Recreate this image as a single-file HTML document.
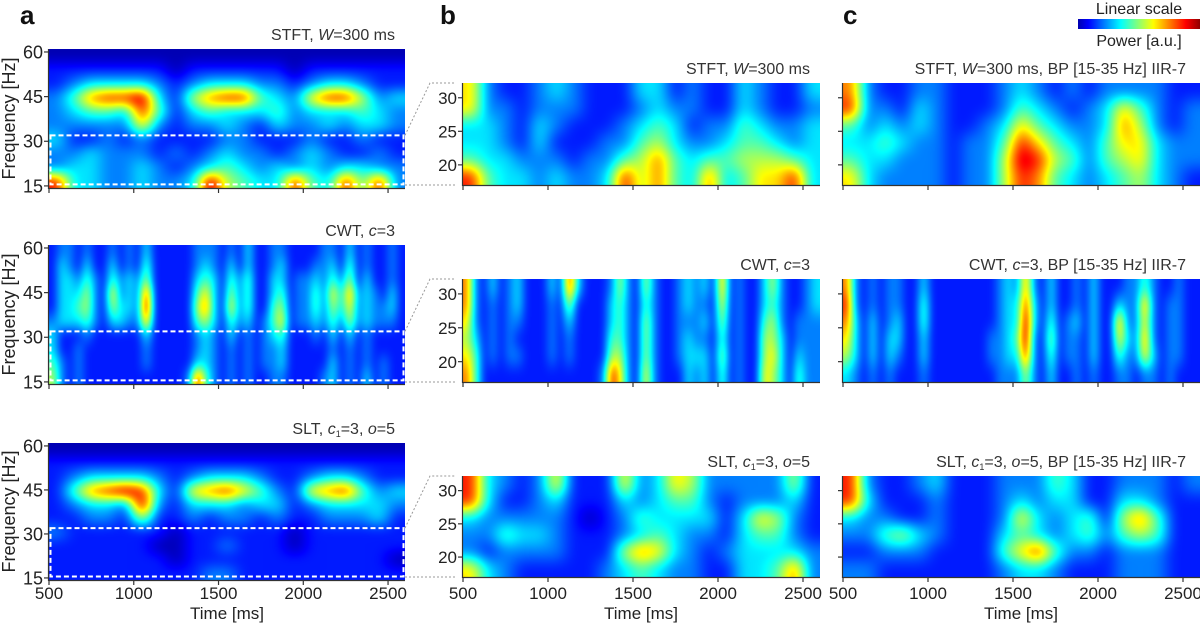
<!DOCTYPE html>
<html><head><meta charset="utf-8"><style>
body{margin:0;background:#fff;width:1200px;height:626px;overflow:hidden;position:relative;font-family:"Liberation Sans",sans-serif}
canvas{position:absolute}
svg{position:absolute;left:0;top:0}
</style></head><body>
<div id="maps"></div>
<canvas id="cbar" width="122" height="10" style="left:1078px;top:19px"></canvas>
<svg id="ov" width="1200" height="626"></svg>
<script>
const timeTicks=[500,1000,1500,2000,2500];
const freqTicksA=[60,45,30,15];
const freqTicksB=[30,25,20];
const stftA=[
"000000000000000000000",
"111111101111110111111",
"123333212333221233211",
"247889315788432688523",
"234438413433342333432",
"222226212232132232332",
"311212111122111211211",
"223222121232212321121",
"233223212343232323322",
"833223223954338438482"];
const cwtA=[
"122121121213111112221213112211112213121121",
"132131131214111112321313112311122314121121",
"133242142325111113431424113312232425131121",
"133352162328111114631524113412242637232131",
"133452153329111115731624114512242536232231",
"233342133227111114531423124612232425232221",
"311121111113111112321312123411121313121111",
"311211111112111112321212122311111212121111",
"421211111112111113321212122311111312121211",
"521211111111111128421212112211112312131211"];
const sltA=[
"000000000000000000000",
"111111111111111111111",
"123333212333211233211",
"147898316786421678423",
"123329213332331233332",
"112215112122121122231",
"211111101111110111111",
"111111001121110111111",
"111111101111111111110",
"111111111221111111111"];
const stftB=[
"621123211133121132113",
"622122211123221132112",
"332132111234312243223",
"332131112245322344323",
"433222122457434455543",
"843323223857437346683"];
const cwtB=[
"721312311131831112521521123231712113521123",
"721212311121511113421421123221612113421123",
"621212211121311113421521122231512114521222",
"531212111121211114421521123221412115531222",
"641212211121211115521521123331512115631322",
"741111111111111128621621113231412116531422"];
const sltB=[
"832126111623652222251",
"831123111323442122231",
"322222101243333136521",
"224332111234322134421",
"212222111576321233332",
"632111112343221133472"];
const stftC=[
"721122111232121222211",
"822132111243212364212",
"423232112364322375212",
"334322122486432466322",
"433222122598542456322",
"632222122587432345321"];
const cwtC=[
"721212211311111111232721311213111224211211",
"821212211411111111233831311213113227212211",
"731312311411111111233931412313117226212211",
"631313311311111112234921512213116327212211",
"531313211311111112233821412213114226312211",
"321212111211111111222521311212112212212111"];
const sltC=[
"821123111222431122212",
"831112111232331133211",
"322112111263234157411",
"224532111343234245411",
"112221111468422122211",
"221111111233211122211"];

const T0=500,T1=2600;
const rowsA=[[49,188],[245,384],[443,580]];
const rowsB=[[83,185],[279,382],[476,577]];
const panels=[
 {g:stftA,x0:49,x1:405,r:0,fmax:61,fmin:14.3,name:'stft-a'},
 {g:cwtA,x0:49,x1:405,r:1,fmax:61,fmin:14.3,name:'cwt-a'},
 {g:sltA,x0:49,x1:405,r:2,fmax:61,fmin:14.3,name:'slt-a'},
 {g:stftB,x0:463,x1:820,r:0,fmax:32.2,fmin:17,name:'stft-b',b:1},
 {g:cwtB,x0:463,x1:820,r:1,fmax:32.2,fmin:17,name:'cwt-b',b:1},
 {g:sltB,x0:463,x1:820,r:2,fmax:32.2,fmin:17,name:'slt-b',b:1},
 {g:stftC,x0:843,x1:1200,r:0,fmax:32.2,fmin:17,name:'stft-c',b:1},
 {g:cwtC,x0:843,x1:1200,r:1,fmax:32.2,fmin:17,name:'cwt-c',b:1},
 {g:sltC,x0:843,x1:1200,r:2,fmax:32.2,fmin:17,name:'slt-c',b:1}];
function jet(v){const c=x=>Math.max(0,Math.min(1,x));return [c(1.5-Math.abs(4*v-3))*255,c(1.5-Math.abs(4*v-2))*255,c(1.5-Math.abs(4*v-1))*255];}
function boxBlur(F,w,h,rx,ry){
 const tmp=new Float32Array(w*h);
 for(let y=0;y<h;y++)for(let x=0;x<w;x++){let s=0,n=0;for(let k=-rx;k<=rx;k++){const xx=Math.max(0,Math.min(w-1,x+k));s+=F[y*w+xx];n++;}tmp[y*w+x]=s/n;}
 for(let y=0;y<h;y++)for(let x=0;x<w;x++){let s=0,n=0;for(let k=-ry;k<=ry;k++){const yy=Math.max(0,Math.min(h-1,y+k));s+=tmp[yy*w+x];n++;}F[y*w+x]=s/n;}
}
const maps=document.getElementById('maps');
panels.forEach(p=>{
 const [y0,y1]=(p.b?rowsB:rowsA)[p.r];
 const w=p.x1-p.x0,h=y1-y0;
 const cv=document.createElement('canvas');
 cv.width=w;cv.height=h;cv.style.left=p.x0+'px';cv.style.top=y0+'px';
 
 
 maps.appendChild(cv);
 const ctx=cv.getContext('2d'),img=ctx.createImageData(w,h);
 const R=p.g.length,C=p.g[0].length;
 const val=(r,c)=>+p.g[Math.max(0,Math.min(R-1,r))][Math.max(0,Math.min(C-1,c))];
 const F=new Float32Array(w*h);
 for(let y=0;y<h;y++){const gy=(y+0.5)/h*R-0.5,ry=Math.floor(gy),fy=gy-ry;
  for(let x=0;x<w;x++){const gx=(x+0.5)/w*C-0.5,cx=Math.floor(gx),fx=gx-cx;
   F[y*w+x]=(val(ry,cx)*(1-fx)+val(ry,cx+1)*fx)*(1-fy)+(val(ry+1,cx)*(1-fx)+val(ry+1,cx+1)*fx)*fy;}}
 const rx=Math.max(1,Math.round(w/C*0.3)),ryy=Math.max(1,Math.round(h/R*0.3));
 for(let k=0;k<3;k++)boxBlur(F,w,h,rx,ryy);
 for(let i=0;i<w*h;i++){const col=jet(0.05+F[i]*0.1);img.data[i*4]=col[0];img.data[i*4+1]=col[1];img.data[i*4+2]=col[2];img.data[i*4+3]=255;}
 ctx.putImageData(img,0,0);
 p.y0=y0;p.y1=y1;
});
(function(){const c=document.getElementById('cbar').getContext('2d');for(let x=0;x<122;x++){const k=jet(0.05+x/121*0.93);c.fillStyle=`rgb(${k[0]|0},${k[1]|0},${k[2]|0})`;c.fillRect(x,0,1,10);}})();
const NS='http://www.w3.org/2000/svg',ov=document.getElementById('ov');
function el(tag,attrs,txt){const e=document.createElementNS(NS,tag);for(const k in attrs)e.setAttribute(k,attrs[k]);if(txt!==undefined)e.innerHTML=txt;ov.appendChild(e);return e;}
const titles=['STFT, <tspan font-style="italic">W</tspan>=300 ms','CWT, <tspan font-style="italic">c</tspan>=3','SLT, <tspan font-style="italic">c</tspan><tspan font-size="9" dy="3">1</tspan><tspan dy="-3">=3, </tspan><tspan font-style="italic">o</tspan>=5'];
const titlesC=[titles[0]+', BP [15-35 Hz] IIR-7',titles[1]+', BP [15-35 Hz] IIR-7','SLT, <tspan font-style="italic">c</tspan><tspan font-size="9" dy="3">1</tspan><tspan dy="-3">=3, </tspan><tspan font-style="italic">o</tspan>=5, BP [15-35 Hz] IIR-7'];
panels.forEach((p,i)=>{
 const xs=t=>p.x0+(t-T0)/(T1-T0)*(p.x1-p.x0);
 const ys=f=>p.y0+(p.fmax-f)/(p.fmax-p.fmin)*(p.y1-p.y0);
 let ln=el('line',{x1:p.x0-0.5,y1:p.y0,x2:p.x0-0.5,y2:p.y1+1,stroke:'#333','stroke-width':1.2});
 
 ln=el('line',{x1:p.x0-0.5,y1:p.y1+0.5,x2:p.x1,y2:p.y1+0.5,stroke:'#333','stroke-width':1.2});
 
 timeTicks.forEach(t=>{const tk=el('line',{x1:xs(t),y1:p.y1,x2:xs(t),y2:p.y1+5,stroke:'#333','stroke-width':1.2});
  
  if(p.r===2){const tl=el('text',{x:xs(t),y:599,'text-anchor':'middle','font-size':17,fill:'#222'},t);
   }});
 const ft=p.b?freqTicksB:freqTicksA;
 ft.forEach(f=>{const tk=el('line',{x1:p.x0-5,y1:ys(f),x2:p.x0,y2:ys(f),stroke:'#333','stroke-width':1.2});
  
  if(p.x0<800){const fs=p.b?17:18;const tl=el('text',{x:p.x0-6,y:ys(f)+fs*0.36,'text-anchor':'end','font-size':fs,fill:'#222'},f);
   }});
 const tt=el('text',{x:p.x1-(p.x1>1190?14:10),y:p.y0-9,'text-anchor':'end','font-size':16,fill:'#333'},p.x0>800?titlesC[p.r]:titles[p.r]);
 
 if(!p.b){
  const ya=el('text',{x:15,y:(p.y0+p.y1)/2,'text-anchor':'middle','font-size':18,fill:'#222',transform:`rotate(-90 15 ${(p.y0+p.y1)/2})`},'Frequency [Hz]');
  
  const bx=el('rect',{x:p.x0+1.5,y:ys(32),width:p.x1-p.x0-3,height:ys(15.5)-ys(32),fill:'none',stroke:'#fff','stroke-width':2,'stroke-dasharray':'5 3'});
  
  const by=rowsB[p.r];
  const c1=el('polyline',{points:`${p.x1},${ys(32)} 430,${by[0]} 455,${by[0]}`,fill:'none',stroke:'#999','stroke-width':1,'stroke-dasharray':'2 2'});
  
  const c2=el('polyline',{points:`${p.x1},${by[1]} 455,${by[1]}`,fill:'none',stroke:'#999','stroke-width':1,'stroke-dasharray':'2 2'});
  
 }
});
[[227,'Time [ms]'],[641,'Time [ms]'],[1021,'Time [ms]']].forEach(a=>{const t=el('text',{x:a[0],y:619,'text-anchor':'middle','font-size':17,fill:'#222'},a[1]);
 });
[[20,'a'],[440,'b'],[843,'c']].forEach(a=>{const t=el('text',{x:a[0],y:24,'font-size':26,'font-weight':'bold',fill:'#111'},a[1]);
 });
let t1=el('text',{x:1139,y:14,'text-anchor':'middle','font-size':16,fill:'#222'},'Linear scale');

let t2=el('text',{x:1139,y:46,'text-anchor':'middle','font-size':16,fill:'#222'},'Power [a.u.]');

</script>
</body></html>
